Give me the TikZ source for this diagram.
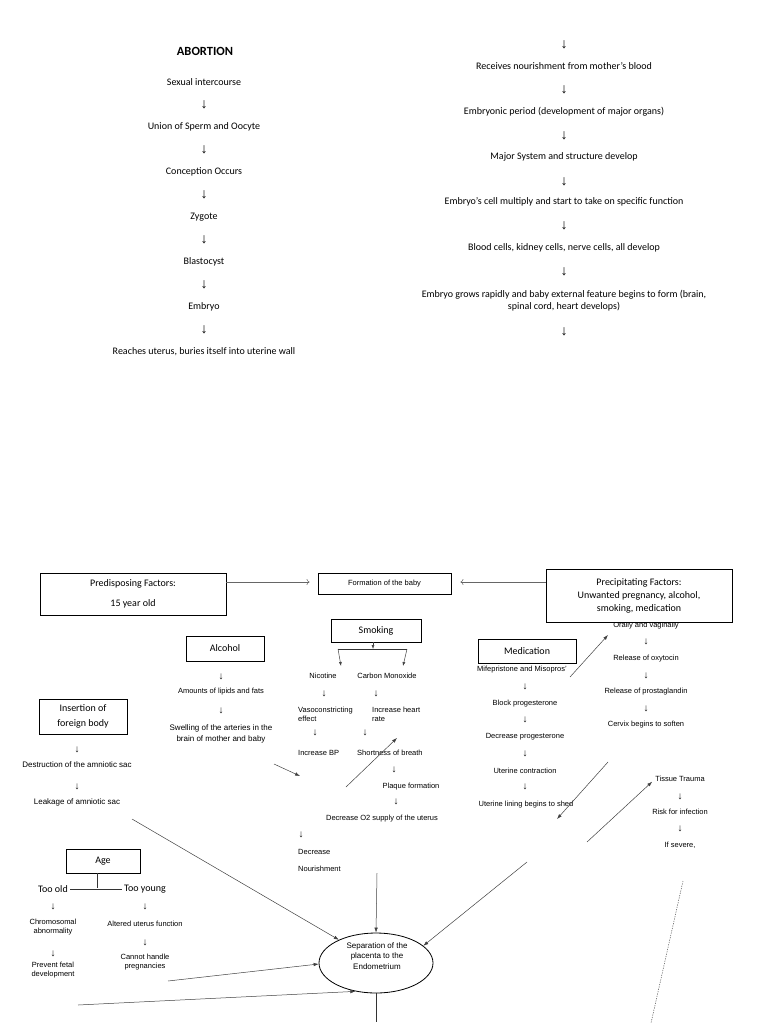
\documentclass[tikz,border=0pt]{standalone}
\usepackage{fontspec}
\setmainfont{Carlito}
\newfontfamily\arialf{Liberation Sans}
\usetikzlibrary{arrows.meta,shapes.geometric}
\begin{document}
\begin{tikzpicture}[x=1pt,y=-1pt,
 tx/.style={inner sep=0pt,align=center,font=\fontsize{10}{12}\selectfont},
 sm/.style={inner sep=0pt,align=center,font=\arialf\fontsize{7.5}{9}\selectfont},
 sml/.style={inner sep=0pt,align=left,anchor=west,font=\arialf\fontsize{7.5}{9}\selectfont},
 dn/.style={inner sep=0pt,font=\arialf\fontsize{14}{14}\selectfont},
 sdn/.style={inner sep=0pt,font=\arialf\fontsize{10}{10}\selectfont},
 bx/.style={draw,line width=0.8pt,inner sep=0pt,align=center,fill=white},
 con/.style={draw=black!75,line width=0.5pt,-{Latex[length=5pt,width=3.5pt]}},
 open/.style={draw=black!60,line width=0.5pt,-{To[length=3pt,width=6pt]}},
 ln/.style={draw=black!80,line width=0.6pt}]
\useasboundingbox (0,0) rectangle (768,1024);
% ---------- top left chain ----------
\node[tx,font=\bfseries\fontsize{12.5}{14}\selectfont] (title) at (205,51) {ABORTION};
\node[tx] (l1) at (204,82) {Sexual intercourse};
\node[dn] (la1) at (204,105) {↓};
\node[tx] (l2) at (204,127) {Union of Sperm and Oocyte};
\node[dn] (la2) at (204,150) {↓};
\node[tx] (l3) at (204,172) {Conception Occurs};
\node[dn] (la3) at (204,195) {↓};
\node[tx] (l4) at (204,217) {Zygote};
\node[dn] (la4) at (204,240) {↓};
\node[tx] (l5) at (204,262) {Blastocyst};
\node[dn] (la5) at (204,285) {↓};
\node[tx] (l6) at (204,307) {Embryo};
\node[dn] (la6) at (204,330) {↓};
\node[tx] (l7) at (204,352) {Reaches uterus, buries itself into uterine wall};
% ---------- top right chain ----------
\node[dn] (ra0) at (564,45) {↓};
\node[tx] (r1) at (564,66) {Receives nourishment from mother’s blood};
\node[dn] (ra1) at (564,90) {↓};
\node[tx] (r2) at (564,112) {Embryonic period (development of major organs)};
\node[dn] (ra2) at (564,136) {↓};
\node[tx] (r3) at (564,157) {Major System and structure develop};
\node[dn] (ra3) at (564,182) {↓};
\node[tx] (r4) at (564,202) {Embryo’s cell multiply and start to take on specific function};
\node[dn] (ra4) at (564,226) {↓};
\node[tx] (r5) at (564,248) {Blood cells, kidney cells, nerve cells, all develop};
\node[dn] (ra5) at (564,272) {↓};
\node[tx] (r6) at (564,301) {Embryo grows rapidly and baby external feature begins to form (brain,\\spinal cord, heart develops)};
\node[dn] (ra6) at (564,332) {↓};
% ---------- lower diagram: boxes ----------
\node[bx,minimum width=186pt,minimum height=42pt,font=\fontsize{10}{20}\selectfont] (pred) at (133,594) {Predisposing Factors:\\15 year old};
\node[bx,minimum width=133pt,minimum height=21pt,font=\arialf\fontsize{7.5}{9}\selectfont] (form) at (384.5,583.5) {Formation of the baby};
% orally text partly hidden by the precipitating box
\node[sm] (oral) at (646,625.5) {Orally and vaginally};
\node[bx,minimum width=186pt,minimum height=53pt,font=\fontsize{10}{13}\selectfont] (prec) at (639,595.5) {Precipitating Factors:\\Unwanted pregnancy, alcohol,\\smoking, medication};
\node[bx,minimum width=90pt,minimum height=23pt,font=\fontsize{10}{12}\selectfont] (smk) at (376,630.5) {Smoking};
\node[bx,minimum width=78pt,minimum height=25pt,font=\fontsize{10}{12}\selectfont] (alc) at (225,648.5) {Alcohol};
\node[bx,minimum width=98pt,minimum height=24pt,font=\fontsize{10}{12}\selectfont] (med) at (527,651) {Medication};
\node[bx,minimum width=88pt,minimum height=35pt,font=\fontsize{10}{15}\selectfont] (ins) at (83,716.5) {Insertion of\\foreign body};
\node[bx,minimum width=74pt,minimum height=24pt,font=\fontsize{10}{12}\selectfont] (age) at (103,861) {Age};
\node[ellipse,draw,line width=0.8pt,minimum width=114pt,minimum height=60pt,inner sep=0pt] (sep) at (376,963) {};
\node[inner sep=0pt,align=center,font=\arialf\fontsize{8}{10.5}\selectfont] (septx) at (377,956) {Separation of the\\placenta to the\\Endometrium};
% ---------- alcohol column ----------
\node[sdn] (aa1) at (221,677) {↓};
\node[sm] (a1) at (221,692) {Amounts of lipids and fats};
\node[sdn] (aa2) at (221,711) {↓};
\node[sm,font=\arialf\fontsize{8}{11}\selectfont] (a2) at (221,733.5) {Swelling of the arteries in the\\brain of mother and baby};
% ---------- insertion column ----------
\node[sdn] (ia1) at (77,750) {↓};
\node[sm,font=\arialf\fontsize{8}{9}\selectfont] (i1) at (77,765) {Destruction of the amniotic sac};
\node[sdn] (ia2) at (77,787) {↓};
\node[sm,font=\arialf\fontsize{8}{9}\selectfont] (i2) at (77,802) {Leakage of amniotic sac};
% ---------- smoking column ----------
\node[sm] (nic) at (323,676) {Nicotine};
\node[sm] (co) at (387,676) {Carbon Monoxide};
\node[sdn] (sa1) at (324,694) {↓};
\node[sdn] (sa2) at (376,694) {↓};
\node[sml] (vaso) at (298,714.5) {Vasoconstricting\\effect};
\node[sml] (hr) at (372,714.5) {Increase heart\\rate};
\node[sdn] (sa3) at (315,733) {↓};
\node[sdn] (sa4) at (365,733) {↓};
\node[sml] (bp) at (298,753) {Increase BP};
\node[sml] (sob) at (357,753) {Shortness of breath};
\node[sdn] (sa5) at (394,770) {↓};
\node[sm] (plq) at (411,787) {Plaque formation};
\node[sdn] (sa6) at (396,802) {↓};
\node[sm] (o2) at (382,819) {Decrease O2 supply of the uterus};
\node[sdn] (sa7) at (301,835) {↓};
\node[sml] (dec) at (298,852) {Decrease};
\node[sml] (nour) at (298,869) {Nourishment};
% ---------- medication column ----------
\node[sm] (m1) at (522,670) {Mifepristone and Misopros’};
\node[sdn] (ma1) at (525,687) {↓};
\node[sm] (m2) at (525,704) {Block progesterone};
\node[sdn] (ma2) at (525,720) {↓};
\node[sm] (m3) at (525,737) {Decrease progesterone};
\node[sdn] (ma3) at (525,754) {↓};
\node[sm] (m4) at (525,771) {Uterine contraction};
\node[sdn] (ma4) at (525,787) {↓};
\node[sm] (m5) at (526,805) {Uterine lining begins to shed};
% ---------- orally column ----------
\node[sdn] (oa1) at (646,642) {↓};
\node[sm] (o1) at (646,659) {Release of oxytocin};
\node[sdn] (oa2) at (646,676) {↓};
\node[sm] (o2b) at (646,692) {Release of prostaglandin};
\node[sdn] (oa3) at (646,709) {↓};
\node[sm] (o3) at (646,725) {Cervix begins to soften};
% ---------- tissue column ----------
\node[sm] (tt) at (680,779) {Tissue Trauma};
\node[sdn] (ta1) at (680,797) {↓};
\node[sm] (t2) at (680,812) {Risk for infection};
\node[sdn] (ta2) at (680,829) {↓};
\node[sm] (t3) at (680,845) {If severe,};
% ---------- age ----------
\node[tx] (old) at (53,889) {Too old};
\node[tx] (young) at (145,889) {Too young};
\node[sdn] (ga1) at (53,907) {↓};
\node[sdn] (ga2) at (145,907) {↓};
\node[sm] (g1) at (53,927) {Chromosomal\\abnormality};
\node[sdn] (ga3) at (53,954) {↓};
\node[sm] (g2) at (53,970) {Prevent fetal\\development};
\node[sm] (g3) at (145,924) {Altered uterus function};
\node[sdn] (ga4) at (145,943) {↓};
\node[sm] (g4) at (145,962) {Cannot handle\\pregnancies};
% ---------- coordinates ----------
\coordinate (sj) at (373,649);
\coordinate (sl) at (338,649);
\coordinate (sr) at (407,649);
\coordinate (nicT) at (341,666);
\coordinate (coT) at (403,666);
\coordinate (aj) at (97,888);
\coordinate (alS) at (274,764);
\coordinate (alE) at (300,776);
\coordinate (smS) at (346,787);
\coordinate (smE) at (397,738);
\coordinate (mfS) at (570,677);
\coordinate (mfE) at (608,635);
\coordinate (ulS) at (608,762);
\coordinate (ulE) at (557,819);
\coordinate (ttS) at (587,842);
\coordinate (dtS) at (683,881);
\coordinate (dtE) at (651,1023);
\coordinate (rS) at (527,862);
\coordinate (lkS) at (132,819);
\coordinate (ca1) at (168,981);
\coordinate (ca2) at (78,1005);
\coordinate (nrS) at (377,873);
\coordinate (btm) at (376,1022);
% ---------- connectors ----------
\draw[open,shorten >=8pt] ([yshift=12pt]pred.east) -- ([yshift=1.5pt]form.west);
\draw[open,shorten >=9pt] ([yshift=13.5pt]prec.west) -- ([yshift=1.5pt]form.east);
\draw[con,-{Latex[length=4pt,width=3pt]}] (sj |- smk.south) -- (sj);
\draw[ln] (sl) -- (sr);
\draw[con,-{Latex[length=4pt,width=3pt]}] (sl) -- (nicT);
\draw[con,-{Latex[length=4pt,width=3pt]}] (sr) -- (coT);
\draw[ln] (aj |- age.south) -- (aj);
\draw[ln,shorten <=2pt,shorten >=2pt] (old.east) -- (young.west);
\draw[con] (alS) -- (alE);
\draw[con] (smS) -- (smE);
\draw[con] (mfS) -- (mfE);
\draw[con] (ulS) -- (ulE);
\draw[con,shorten >=4pt] (ttS) -- (tt.west);
\draw[draw=black!70,line width=0.5pt,dash pattern=on 1.2pt off 1.2pt] (dtS) -- (dtE);
\draw[con] (rS) -- (sep.20);
\draw[con] (lkS) -- (sep.148);
\draw[con] (ca1) -- (sep.181);
\draw[con] (ca2) -- (sep.234);
\draw[con] (nrS) -- (sep.north);
\draw[ln] (sep.south) -- (btm);
\end{tikzpicture}
\end{document}
